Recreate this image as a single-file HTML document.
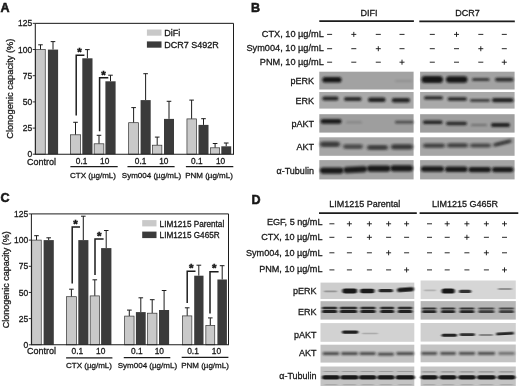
<!DOCTYPE html>
<html><head><meta charset="utf-8"><title>Figure</title>
<style>
html,body{margin:0;padding:0;background:#fff;}
body{width:520px;height:386px;overflow:hidden;}
svg{display:block;font-family:"Liberation Sans",sans-serif;fill:#161616;}
text{stroke:#161616;stroke-width:0.28px;}
text.pl{stroke-width:0.55px;}
text.st{stroke-width:0.5px;}
</style></head><body>
<svg width="520" height="386" viewBox="0 0 520 386">
<defs>
<filter id="b1" x="-20%" y="-100%" width="140%" height="300%"><feGaussianBlur stdDeviation="1.15 0.8"/></filter>
<filter id="b2" x="-20%" y="-100%" width="140%" height="300%"><feGaussianBlur stdDeviation="1.5 1.0"/></filter>
<filter id="b3" x="-20%" y="-100%" width="140%" height="300%"><feGaussianBlur stdDeviation="0.85 0.6"/></filter>
<filter id="soft"><feGaussianBlur stdDeviation="0.35"/></filter>
</defs>
<rect width="520" height="386" fill="#fff"/>
<g filter="url(#soft)">

<text x="0.6" y="11.8" class="pl" font-size="12.5" font-weight="bold">A</text>
<path d="M40.5 49.6V44.8M38.2 44.8H42.8" stroke="#1c1c1c" stroke-width="1.0" fill="none"/><rect x="35.65" y="49.6" width="9.60" height="104.6" fill="#c9c9c9" stroke="#333" stroke-width="0.7"/><path d="M53.0 49.6V41.6M50.7 41.6H55.3" stroke="#1c1c1c" stroke-width="1.0" fill="none"/><rect x="47.90" y="49.6" width="10.20" height="104.6" fill="#3b3b3b"/><path d="M75.5 134.8V122.3M73.2 122.3H77.8" stroke="#1c1c1c" stroke-width="1.0" fill="none"/><rect x="70.35" y="134.8" width="10.30" height="19.4" fill="#c9c9c9" stroke="#333" stroke-width="0.7"/><path d="M87.4 58.3V49.6M85.1 49.6H89.7" stroke="#1c1c1c" stroke-width="1.0" fill="none"/><rect x="82.30" y="58.3" width="10.20" height="95.9" fill="#3b3b3b"/><path d="M99.0 143.8V135.3M96.7 135.3H101.3" stroke="#1c1c1c" stroke-width="1.0" fill="none"/><rect x="94.15" y="143.8" width="9.70" height="10.4" fill="#c9c9c9" stroke="#333" stroke-width="0.7"/><path d="M110.5 81.3V75.2M108.2 75.2H112.8" stroke="#1c1c1c" stroke-width="1.0" fill="none"/><rect x="105.40" y="81.3" width="10.20" height="72.9" fill="#3b3b3b"/><path d="M133.6 122.7V107.6M131.3 107.6H135.9" stroke="#1c1c1c" stroke-width="1.0" fill="none"/><rect x="128.65" y="122.7" width="9.90" height="31.5" fill="#c9c9c9" stroke="#333" stroke-width="0.7"/><path d="M145.6 100.1V73.7M143.3 73.7H147.9" stroke="#1c1c1c" stroke-width="1.0" fill="none"/><rect x="140.60" y="100.1" width="10.10" height="54.1" fill="#3b3b3b"/><path d="M157.2 145.2V137.1M154.9 137.1H159.5" stroke="#1c1c1c" stroke-width="1.0" fill="none"/><rect x="152.55" y="145.2" width="9.30" height="9.0" fill="#c9c9c9" stroke="#333" stroke-width="0.7"/><path d="M169.0 118.9V101.3M166.7 101.3H171.3" stroke="#1c1c1c" stroke-width="1.0" fill="none"/><rect x="164.00" y="118.9" width="10.00" height="35.3" fill="#3b3b3b"/><path d="M191.6 118.9V100.1M189.3 100.1H193.9" stroke="#1c1c1c" stroke-width="1.0" fill="none"/><rect x="186.95" y="118.9" width="9.40" height="35.3" fill="#c9c9c9" stroke="#333" stroke-width="0.7"/><path d="M203.5 124.9V118.7M201.2 118.7H205.8" stroke="#1c1c1c" stroke-width="1.0" fill="none"/><rect x="198.50" y="124.9" width="10.00" height="29.3" fill="#3b3b3b"/><path d="M215.1 147.8V143.5M212.8 143.5H217.4" stroke="#1c1c1c" stroke-width="1.0" fill="none"/><rect x="210.55" y="147.8" width="9.10" height="6.4" fill="#c9c9c9" stroke="#333" stroke-width="0.7"/><path d="M226.2 146.3V143.0M223.9 143.0H228.6" stroke="#1c1c1c" stroke-width="1.0" fill="none"/><rect x="221.30" y="146.3" width="9.90" height="7.9" fill="#3b3b3b"/><path d="M35.3 154.2V23.35H233.5V154.2" fill="none" stroke="#1c1c1c" stroke-width="1"/><path d="M34.8 154.2H234.0" fill="none" stroke="#1c1c1c" stroke-width="1.1"/><path d="M32.699999999999996 23.35H35.3" stroke="#1c1c1c" stroke-width="0.9"/><text x="32.199999999999996" y="26.40" font-size="8.5" text-anchor="end">125</text><path d="M32.699999999999996 49.5H35.3" stroke="#1c1c1c" stroke-width="0.9"/><text x="32.199999999999996" y="52.55" font-size="8.5" text-anchor="end">100</text><path d="M32.699999999999996 75.7H35.3" stroke="#1c1c1c" stroke-width="0.9"/><text x="32.199999999999996" y="78.75" font-size="8.5" text-anchor="end">75</text><path d="M32.699999999999996 101.9H35.3" stroke="#1c1c1c" stroke-width="0.9"/><text x="32.199999999999996" y="104.95" font-size="8.5" text-anchor="end">50</text><path d="M32.699999999999996 128.1H35.3" stroke="#1c1c1c" stroke-width="0.9"/><text x="32.199999999999996" y="131.15" font-size="8.5" text-anchor="end">25</text><path d="M32.699999999999996 154.2H35.3" stroke="#1c1c1c" stroke-width="0.9"/><text x="32.199999999999996" y="157.25" font-size="8.5" text-anchor="end">0</text>
<path d="M76.2 115.4V55.2H84.4" fill="none" stroke="#1c1c1c" stroke-width="1.5"/><text x="79.4" y="56.2" class="st" font-size="11.5" font-weight="bold" text-anchor="middle">*</text>
<path d="M99.6 131.2V77.7H108.3" fill="none" stroke="#1c1c1c" stroke-width="1.5"/><text x="103.4" y="79.0" class="st" font-size="11.5" font-weight="bold" text-anchor="middle">*</text>
<rect x="146.9" y="29.5" width="14.6" height="6.2" fill="#c9c9c9"/>
<rect x="146.9" y="41.4" width="14.6" height="6.3" fill="#3b3b3b"/>
<text x="164.3" y="35.8" font-size="9">DiFi</text>
<text x="164.3" y="47.8" font-size="9">DCR7 S492R</text>
<text transform="translate(13.0,88.7) rotate(-90)" font-size="9.3" text-anchor="middle">Clonogenic capacity (%)</text>
<text x="41.5" y="164.7" font-size="9" text-anchor="middle">Control</text>
<text x="81.6" y="164.2" font-size="8.3" text-anchor="middle">0.1</text>
<text x="104.7" y="164.2" font-size="8.3" text-anchor="middle">10</text>
<text x="140.6" y="164.2" font-size="8.3" text-anchor="middle">0.1</text>
<text x="163.8" y="164.2" font-size="8.3" text-anchor="middle">10</text>
<text x="196.8" y="164.2" font-size="8.3" text-anchor="middle">0.1</text>
<text x="220.5" y="164.2" font-size="8.3" text-anchor="middle">10</text>
<path d="M70.4 166.7H117.7" stroke="#1c1c1c" stroke-width="1.3"/>
<path d="M127.5 166.7H174.6" stroke="#1c1c1c" stroke-width="1.3"/>
<path d="M185.9 166.7H233.3" stroke="#1c1c1c" stroke-width="1.3"/>
<text x="93.0" y="177.8" font-size="8" text-anchor="middle">CTX (µg/mL)</text>
<text x="151.5" y="177.8" font-size="8" text-anchor="middle">Sym004 (µg/mL)</text>
<text x="209.0" y="177.8" font-size="8" text-anchor="middle">PNM (µg/mL)</text>
<text x="0.5" y="202.4" class="pl" font-size="12.5" font-weight="bold">C</text>
<path d="M36.5 240.1V235.7M34.2 235.7H38.8" stroke="#1c1c1c" stroke-width="1.0" fill="none"/><rect x="31.75" y="240.1" width="9.50" height="104.7" fill="#c9c9c9" stroke="#333" stroke-width="0.7"/><path d="M48.7 240.1V237.8M46.4 237.8H51.0" stroke="#1c1c1c" stroke-width="1.0" fill="none"/><rect x="43.60" y="240.1" width="10.20" height="104.7" fill="#3b3b3b"/><path d="M71.4 296.7V289.2M69.1 289.2H73.7" stroke="#1c1c1c" stroke-width="1.0" fill="none"/><rect x="66.45" y="296.7" width="9.90" height="48.1" fill="#c9c9c9" stroke="#333" stroke-width="0.7"/><path d="M83.3 240.1V216.2M81.0 216.2H85.6" stroke="#1c1c1c" stroke-width="1.0" fill="none"/><rect x="78.30" y="240.1" width="10.10" height="104.7" fill="#3b3b3b"/><path d="M94.8 295.9V279.8M92.5 279.8H97.1" stroke="#1c1c1c" stroke-width="1.0" fill="none"/><rect x="90.15" y="295.9" width="9.30" height="48.9" fill="#c9c9c9" stroke="#333" stroke-width="0.7"/><path d="M106.2 248.1V230.5M104.0 230.5H108.5" stroke="#1c1c1c" stroke-width="1.0" fill="none"/><rect x="101.10" y="248.1" width="10.30" height="96.7" fill="#3b3b3b"/><path d="M129.3 316.1V310.1M127.0 310.1H131.7" stroke="#1c1c1c" stroke-width="1.0" fill="none"/><rect x="124.65" y="316.1" width="9.40" height="28.7" fill="#c9c9c9" stroke="#333" stroke-width="0.7"/><path d="M140.8 312.1V297.8M138.5 297.8H143.1" stroke="#1c1c1c" stroke-width="1.0" fill="none"/><rect x="135.90" y="312.1" width="9.80" height="32.7" fill="#3b3b3b"/><path d="M152.2 313.2V299.7M149.9 299.7H154.6" stroke="#1c1c1c" stroke-width="1.0" fill="none"/><rect x="147.55" y="313.2" width="9.40" height="31.6" fill="#c9c9c9" stroke="#333" stroke-width="0.7"/><path d="M164.1 310.0V290.5M161.8 290.5H166.4" stroke="#1c1c1c" stroke-width="1.0" fill="none"/><rect x="159.00" y="310.0" width="10.10" height="34.8" fill="#3b3b3b"/><path d="M187.2 315.9V307.8M184.9 307.8H189.5" stroke="#1c1c1c" stroke-width="1.0" fill="none"/><rect x="182.55" y="315.9" width="9.30" height="28.9" fill="#c9c9c9" stroke="#333" stroke-width="0.7"/><path d="M198.8 275.7V265.2M196.5 265.2H201.2" stroke="#1c1c1c" stroke-width="1.0" fill="none"/><rect x="194.20" y="275.7" width="9.30" height="69.1" fill="#3b3b3b"/><path d="M210.3 325.4V317.9M208.0 317.9H212.6" stroke="#1c1c1c" stroke-width="1.0" fill="none"/><rect x="205.85" y="325.4" width="8.90" height="19.4" fill="#c9c9c9" stroke="#333" stroke-width="0.7"/><path d="M222.2 279.5V265.7M219.8 265.7H224.5" stroke="#1c1c1c" stroke-width="1.0" fill="none"/><rect x="217.40" y="279.5" width="9.50" height="65.3" fill="#3b3b3b"/><path d="M31.4 344.8V213.9H228.5V344.8" fill="none" stroke="#1c1c1c" stroke-width="1"/><path d="M30.9 344.8H229.0" fill="none" stroke="#1c1c1c" stroke-width="1.1"/><path d="M28.799999999999997 213.9H31.4" stroke="#1c1c1c" stroke-width="0.9"/><text x="28.299999999999997" y="216.95" font-size="8.5" text-anchor="end">125</text><path d="M28.799999999999997 240.1H31.4" stroke="#1c1c1c" stroke-width="0.9"/><text x="28.299999999999997" y="243.15" font-size="8.5" text-anchor="end">100</text><path d="M28.799999999999997 266.3H31.4" stroke="#1c1c1c" stroke-width="0.9"/><text x="28.299999999999997" y="269.35" font-size="8.5" text-anchor="end">75</text><path d="M28.799999999999997 292.45H31.4" stroke="#1c1c1c" stroke-width="0.9"/><text x="28.299999999999997" y="295.50" font-size="8.5" text-anchor="end">50</text><path d="M28.799999999999997 318.6H31.4" stroke="#1c1c1c" stroke-width="0.9"/><text x="28.299999999999997" y="321.65" font-size="8.5" text-anchor="end">25</text><path d="M28.799999999999997 344.8H31.4" stroke="#1c1c1c" stroke-width="0.9"/><text x="28.299999999999997" y="347.85" font-size="8.5" text-anchor="end">0</text>
<path d="M72.2 283.5V227.0H80.0" fill="none" stroke="#1c1c1c" stroke-width="1.5"/><text x="75.6" y="228.1" class="st" font-size="11.5" font-weight="bold" text-anchor="middle">*</text>
<path d="M95.0 275.0V239.0H103.6" fill="none" stroke="#1c1c1c" stroke-width="1.5"/><text x="99.3" y="240.2" class="st" font-size="11.5" font-weight="bold" text-anchor="middle">*</text>
<path d="M187.2 303.1V271.2H195.5" fill="none" stroke="#1c1c1c" stroke-width="1.5"/><text x="191.2" y="271.8" class="st" font-size="11.5" font-weight="bold" text-anchor="middle">*</text>
<path d="M210.0 313.4V271.7H218.6" fill="none" stroke="#1c1c1c" stroke-width="1.5"/><text x="214.3" y="271.8" class="st" font-size="11.5" font-weight="bold" text-anchor="middle">*</text>
<rect x="142.2" y="220.1" width="14.3" height="6.3" fill="#c9c9c9"/>
<rect x="142.2" y="231.6" width="14.3" height="6.5" fill="#3b3b3b"/>
<text x="159.6" y="226.5" font-size="8.2">LIM1215 Parental</text>
<text x="159.6" y="237.9" font-size="8.2">LIM1215 G465R</text>
<text transform="translate(9.0,279.8) rotate(-90)" font-size="9.0" text-anchor="middle">Clonogenic capacity (%)</text>
<text x="41.5" y="354.2" font-size="9" text-anchor="middle">Control</text>
<text x="77.4" y="354.4" font-size="8.4" text-anchor="middle">0.1</text>
<text x="100.7" y="354.4" font-size="8.4" text-anchor="middle">10</text>
<text x="136.9" y="354.4" font-size="8.4" text-anchor="middle">0.1</text>
<text x="159.3" y="354.4" font-size="8.4" text-anchor="middle">10</text>
<text x="193.0" y="354.0" font-size="8.4" text-anchor="middle">0.1</text>
<text x="216.4" y="354.0" font-size="8.4" text-anchor="middle">10</text>
<path d="M66.1 357.8H112.4" stroke="#1c1c1c" stroke-width="1.3"/>
<path d="M123.8 357.7H170.3" stroke="#1c1c1c" stroke-width="1.3"/>
<path d="M181.7 357.4H228.4" stroke="#1c1c1c" stroke-width="1.3"/>
<text x="89.0" y="368.4" font-size="8" text-anchor="middle">CTX (µg/mL)</text>
<text x="147.4" y="368.4" font-size="8" text-anchor="middle">Sym004 (µg/mL)</text>
<text x="205.0" y="368.4" font-size="8" text-anchor="middle">PNM (µg/mL)</text>
<text x="251" y="12.0" class="pl" font-size="12.5" font-weight="bold">B</text>
<text x="368.9" y="15.8" font-size="9" text-anchor="middle">DIFI</text>
<text x="467.5" y="16.4" font-size="9" text-anchor="middle">DCR7</text>
<path d="M319.3 21.2H413.9M419.3 21.4H514.8" stroke="#1c1c1c" stroke-width="1.8"/>
<text x="323.8" y="37.3" font-size="9.2" text-anchor="end">CTX, 10 µg/mL</text>
<path d="M327.1 34.4H332.1" stroke="#1c1c1c" stroke-width="0.95"/>
<path d="M351.3 34.4H356.3M353.8 31.9V36.9" stroke="#1c1c1c" stroke-width="0.95"/>
<path d="M375.8 34.4H380.8" stroke="#1c1c1c" stroke-width="0.95"/>
<path d="M399.5 34.4H404.5" stroke="#1c1c1c" stroke-width="0.95"/>
<path d="M429.8 34.4H434.8" stroke="#1c1c1c" stroke-width="0.95"/>
<path d="M454.0 34.4H459.0M456.5 31.9V36.9" stroke="#1c1c1c" stroke-width="0.95"/>
<path d="M478.3 34.4H483.3" stroke="#1c1c1c" stroke-width="0.95"/>
<path d="M501.8 34.4H506.8" stroke="#1c1c1c" stroke-width="0.95"/>
<text x="323.8" y="51.2" font-size="9.2" text-anchor="end">Sym004, 10 µg/mL</text>
<path d="M327.1 48.7H332.1" stroke="#1c1c1c" stroke-width="0.95"/>
<path d="M351.3 48.7H356.3" stroke="#1c1c1c" stroke-width="0.95"/>
<path d="M375.8 48.7H380.8M378.3 46.2V51.2" stroke="#1c1c1c" stroke-width="0.95"/>
<path d="M399.5 48.7H404.5" stroke="#1c1c1c" stroke-width="0.95"/>
<path d="M429.8 48.7H434.8" stroke="#1c1c1c" stroke-width="0.95"/>
<path d="M454.0 48.7H459.0" stroke="#1c1c1c" stroke-width="0.95"/>
<path d="M478.3 48.7H483.3M480.8 46.2V51.2" stroke="#1c1c1c" stroke-width="0.95"/>
<path d="M501.8 48.7H506.8" stroke="#1c1c1c" stroke-width="0.95"/>
<text x="323.8" y="64.8" font-size="9.2" text-anchor="end">PNM, 10 µg/mL</text>
<path d="M327.1 62.2H332.1" stroke="#1c1c1c" stroke-width="0.95"/>
<path d="M351.3 62.2H356.3" stroke="#1c1c1c" stroke-width="0.95"/>
<path d="M375.8 62.2H380.8" stroke="#1c1c1c" stroke-width="0.95"/>
<path d="M399.5 62.2H404.5M402.0 59.7V64.7" stroke="#1c1c1c" stroke-width="0.95"/>
<path d="M429.8 62.2H434.8" stroke="#1c1c1c" stroke-width="0.95"/>
<path d="M454.0 62.2H459.0" stroke="#1c1c1c" stroke-width="0.95"/>
<path d="M478.3 62.2H483.3" stroke="#1c1c1c" stroke-width="0.95"/>
<path d="M501.8 62.2H506.8M504.3 59.7V64.7" stroke="#1c1c1c" stroke-width="0.95"/>
</g>
<g>
<rect x="319.3" y="71.7" width="94.3" height="17.8" fill="#a2a2a2"/>
<rect x="420.1" y="71.7" width="94.5" height="17.8" fill="#a2a2a2"/>
<rect x="319.3" y="92.0" width="94.3" height="16.6" fill="#a9a9a9"/>
<rect x="420.1" y="92.0" width="94.5" height="16.6" fill="#a9a9a9"/>
<rect x="319.3" y="114.2" width="94.3" height="18.4" fill="#9e9e9e"/>
<rect x="420.1" y="114.2" width="94.5" height="18.4" fill="#9e9e9e"/>
<rect x="319.3" y="137.3" width="94.3" height="18.5" fill="#a6a6a6"/>
<rect x="420.1" y="137.3" width="94.5" height="18.5" fill="#a6a6a6"/>
<rect x="319.3" y="160.1" width="94.3" height="19.3" fill="#a4a4a4"/>
<rect x="420.1" y="160.1" width="94.5" height="19.3" fill="#a4a4a4"/>
<rect x="322.3" y="76.90" width="19.3" height="5.60" rx="2.80" fill="#141414" opacity="1.0" filter="url(#b1)"/>
<rect x="395.0" y="80.00" width="17.0" height="2.00" rx="1.00" fill="#141414" opacity="0.12" filter="url(#b1)"/>
<rect x="322.3" y="96.60" width="16.2" height="4.00" rx="2.00" fill="#141414" opacity="0.9" filter="url(#b1)"/>
<rect x="344.0" y="96.90" width="17.6" height="4.00" rx="2.00" fill="#141414" opacity="0.85" filter="url(#b1)"/>
<rect x="368.0" y="97.40" width="17.6" height="4.60" rx="2.30" fill="#141414" opacity="0.92" filter="url(#b1)"/>
<rect x="391.8" y="98.00" width="18.2" height="4.60" rx="2.30" fill="#141414" opacity="0.9" filter="url(#b1)"/>
<rect x="320.6" y="118.95" width="21.0" height="4.90" rx="2.45" fill="#141414" opacity="0.96" filter="url(#b1)"/>
<rect x="346.0" y="121.40" width="16.0" height="1.80" rx="0.90" fill="#141414" opacity="0.22" filter="url(#b1)"/>
<rect x="395.0" y="120.80" width="18.6" height="2.80" rx="1.40" fill="#141414" opacity="0.6" filter="url(#b1)"/>
<rect x="320.0" y="141.50" width="20.0" height="5.40" rx="2.70" fill="#141414" opacity="0.72" filter="url(#b2)"/>
<rect x="343.0" y="144.30" width="20.0" height="4.60" rx="2.30" fill="#141414" opacity="0.62" filter="url(#b2)"/>
<rect x="367.0" y="144.90" width="21.0" height="5.00" rx="2.50" fill="#141414" opacity="0.7" filter="url(#b2)"/>
<rect x="391.0" y="144.20" width="22.0" height="5.20" rx="2.60" fill="#141414" opacity="0.74" filter="url(#b2)"/>
<rect x="320.0" y="167.50" width="23.5" height="6.20" rx="3.10" fill="#141414" opacity="0.97" filter="url(#b1)"/>
<rect x="343.5" y="166.50" width="23.5" height="6.20" rx="3.10" fill="#141414" opacity="0.97" filter="url(#b1)" transform="rotate(-3 355.2 169.6)"/>
<rect x="367.0" y="165.50" width="23.5" height="6.20" rx="3.10" fill="#141414" opacity="0.97" filter="url(#b1)"/>
<rect x="390.5" y="165.20" width="22.5" height="6.20" rx="3.10" fill="#141414" opacity="0.97" filter="url(#b1)"/>
<rect x="421.5" y="76.00" width="21.5" height="7.00" rx="3.50" fill="#141414" opacity="1.0" filter="url(#b1)"/>
<rect x="446.0" y="76.20" width="21.5" height="6.60" rx="3.30" fill="#141414" opacity="1.0" filter="url(#b1)"/>
<rect x="472.0" y="78.10" width="17.5" height="3.00" rx="1.50" fill="#141414" opacity="0.75" filter="url(#b1)"/>
<rect x="495.0" y="77.80" width="18.5" height="3.60" rx="1.80" fill="#141414" opacity="0.85" filter="url(#b1)"/>
<rect x="424.0" y="96.20" width="19.0" height="3.40" rx="1.70" fill="#141414" opacity="0.85" filter="url(#b1)"/>
<rect x="447.5" y="97.20" width="19.5" height="3.60" rx="1.80" fill="#141414" opacity="0.85" filter="url(#b1)"/>
<rect x="470.0" y="98.90" width="20.0" height="2.80" rx="1.40" fill="#141414" opacity="0.75" filter="url(#b1)"/>
<rect x="492.0" y="98.10" width="21.5" height="4.20" rx="2.10" fill="#141414" opacity="0.92" filter="url(#b1)"/>
<rect x="423.0" y="120.50" width="19.5" height="3.60" rx="1.80" fill="#141414" opacity="0.92" filter="url(#b1)"/>
<rect x="446.0" y="121.80" width="21.0" height="3.40" rx="1.70" fill="#141414" opacity="0.85" filter="url(#b1)"/>
<rect x="471.0" y="124.30" width="16.0" height="1.80" rx="0.90" fill="#141414" opacity="0.4" filter="url(#b1)"/>
<rect x="491.0" y="123.00" width="19.0" height="4.00" rx="2.00" fill="#141414" opacity="0.92" filter="url(#b1)"/>
<rect x="423.0" y="143.40" width="22.0" height="4.40" rx="2.20" fill="#141414" opacity="0.7" filter="url(#b2)"/>
<rect x="447.0" y="143.20" width="21.0" height="4.40" rx="2.20" fill="#141414" opacity="0.7" filter="url(#b2)"/>
<rect x="470.0" y="143.60" width="21.0" height="4.00" rx="2.00" fill="#141414" opacity="0.66" filter="url(#b2)"/>
<rect x="493.0" y="141.00" width="19.0" height="4.00" rx="2.00" fill="#141414" opacity="0.72" filter="url(#b2)" transform="rotate(-14 502.5 143.0)"/>
<rect x="421.0" y="166.20" width="23.0" height="5.60" rx="2.80" fill="#141414" opacity="0.97" filter="url(#b1)"/>
<rect x="445.0" y="166.40" width="22.5" height="5.60" rx="2.80" fill="#141414" opacity="0.97" filter="url(#b1)"/>
<rect x="468.5" y="167.00" width="22.5" height="5.20" rx="2.60" fill="#141414" opacity="0.97" filter="url(#b1)"/>
<rect x="492.0" y="166.90" width="21.5" height="5.40" rx="2.70" fill="#141414" opacity="0.97" filter="url(#b1)"/>
</g>
<g filter="url(#soft)">
<text x="313.9" y="84.3" font-size="9" text-anchor="end">pERK</text>
<text x="313.9" y="103.6" font-size="9" text-anchor="end">ERK</text>
<text x="313.9" y="127.1" font-size="9" text-anchor="end">pAKT</text>
<text x="313.9" y="150.0" font-size="9" text-anchor="end">AKT</text>
<text x="313.9" y="174.1" font-size="9" text-anchor="end">α-Tubulin</text>
<text x="251.5" y="203.5" class="pl" font-size="12.5" font-weight="bold">D</text>
<text x="364.7" y="206.7" font-size="9" text-anchor="middle">LIM1215 Parental</text>
<text x="465.0" y="206.7" font-size="9" text-anchor="middle">LIM1215 G465R</text>
<path d="M319 213.1H416.8M419.6 213.1H518.3" stroke="#1c1c1c" stroke-width="1.8"/>
<text x="322.5" y="225.2" font-size="9.1" text-anchor="end">EGF, 5 ng/mL</text>
<path d="M329.4 223.8H334.4" stroke="#1c1c1c" stroke-width="0.95"/>
<path d="M346.9 223.8H351.9M349.4 221.3V226.3" stroke="#1c1c1c" stroke-width="0.95"/>
<path d="M366.9 223.8H371.9M369.4 221.3V226.3" stroke="#1c1c1c" stroke-width="0.95"/>
<path d="M386.1 223.8H391.1M388.6 221.3V226.3" stroke="#1c1c1c" stroke-width="0.95"/>
<path d="M404.1 223.8H409.1M406.6 221.3V226.3" stroke="#1c1c1c" stroke-width="0.95"/>
<path d="M427.0 223.8H432.0" stroke="#1c1c1c" stroke-width="0.95"/>
<path d="M444.7 223.8H449.7M447.2 221.3V226.3" stroke="#1c1c1c" stroke-width="0.95"/>
<path d="M464.4 223.8H469.4M466.9 221.3V226.3" stroke="#1c1c1c" stroke-width="0.95"/>
<path d="M483.9 223.8H488.9M486.4 221.3V226.3" stroke="#1c1c1c" stroke-width="0.95"/>
<path d="M502.0 223.8H507.0M504.5 221.3V226.3" stroke="#1c1c1c" stroke-width="0.95"/>
<text x="322.5" y="240.1" font-size="9.1" text-anchor="end">CTX, 10 µg/mL</text>
<path d="M329.4 237.3H334.4" stroke="#1c1c1c" stroke-width="0.95"/>
<path d="M346.9 237.3H351.9" stroke="#1c1c1c" stroke-width="0.95"/>
<path d="M366.9 237.3H371.9M369.4 234.8V239.8" stroke="#1c1c1c" stroke-width="0.95"/>
<path d="M386.1 237.3H391.1" stroke="#1c1c1c" stroke-width="0.95"/>
<path d="M404.1 237.3H409.1" stroke="#1c1c1c" stroke-width="0.95"/>
<path d="M427.0 237.3H432.0" stroke="#1c1c1c" stroke-width="0.95"/>
<path d="M444.7 237.3H449.7" stroke="#1c1c1c" stroke-width="0.95"/>
<path d="M464.4 237.3H469.4M466.9 234.8V239.8" stroke="#1c1c1c" stroke-width="0.95"/>
<path d="M483.9 237.3H488.9" stroke="#1c1c1c" stroke-width="0.95"/>
<path d="M502.0 237.3H507.0" stroke="#1c1c1c" stroke-width="0.95"/>
<text x="322.5" y="256.3" font-size="9.1" text-anchor="end">Sym004, 10 µg/mL</text>
<path d="M329.4 252.8H334.4" stroke="#1c1c1c" stroke-width="0.95"/>
<path d="M346.9 252.8H351.9" stroke="#1c1c1c" stroke-width="0.95"/>
<path d="M366.9 252.8H371.9" stroke="#1c1c1c" stroke-width="0.95"/>
<path d="M386.1 252.8H391.1M388.6 250.3V255.3" stroke="#1c1c1c" stroke-width="0.95"/>
<path d="M404.1 252.8H409.1" stroke="#1c1c1c" stroke-width="0.95"/>
<path d="M427.0 252.8H432.0" stroke="#1c1c1c" stroke-width="0.95"/>
<path d="M444.7 252.8H449.7" stroke="#1c1c1c" stroke-width="0.95"/>
<path d="M464.4 252.8H469.4" stroke="#1c1c1c" stroke-width="0.95"/>
<path d="M483.9 252.8H488.9M486.4 250.3V255.3" stroke="#1c1c1c" stroke-width="0.95"/>
<path d="M502.0 252.8H507.0" stroke="#1c1c1c" stroke-width="0.95"/>
<text x="322.5" y="272.1" font-size="9.1" text-anchor="end">PNM, 10 µg/mL</text>
<path d="M329.4 269.9H334.4" stroke="#1c1c1c" stroke-width="0.95"/>
<path d="M346.9 269.9H351.9" stroke="#1c1c1c" stroke-width="0.95"/>
<path d="M366.9 269.9H371.9" stroke="#1c1c1c" stroke-width="0.95"/>
<path d="M386.1 269.9H391.1" stroke="#1c1c1c" stroke-width="0.95"/>
<path d="M404.1 269.9H409.1M406.6 267.4V272.4" stroke="#1c1c1c" stroke-width="0.95"/>
<path d="M427.0 269.9H432.0" stroke="#1c1c1c" stroke-width="0.95"/>
<path d="M444.7 269.9H449.7" stroke="#1c1c1c" stroke-width="0.95"/>
<path d="M464.4 269.9H469.4" stroke="#1c1c1c" stroke-width="0.95"/>
<path d="M483.9 269.9H488.9" stroke="#1c1c1c" stroke-width="0.95"/>
<path d="M502.0 269.9H507.0M504.5 267.4V272.4" stroke="#1c1c1c" stroke-width="0.95"/>
<text x="316.6" y="294.3" font-size="9" text-anchor="end">pERK</text>
<text x="316.6" y="314.5" font-size="9" text-anchor="end">ERK</text>
<text x="316.6" y="337.6" font-size="9" text-anchor="end">pAKT</text>
<text x="316.6" y="356.2" font-size="9" text-anchor="end">AKT</text>
<text x="316.6" y="379.1" font-size="9" text-anchor="end">α-Tubulin</text>
</g>
<g>
<rect x="320.5" y="282.6" width="93.8" height="16.4" fill="#cdcdcd"/>
<rect x="320.5" y="301.2" width="93.8" height="18.4" fill="#b6b6b6"/>
<rect x="320.5" y="323.1" width="93.8" height="18.7" fill="#d2d2d2"/>
<rect x="320.5" y="344.7" width="93.8" height="17.9" fill="#c3c3c3"/>
<rect x="320.5" y="366.5" width="93.8" height="19.5" fill="#c4c4c4"/>
<rect x="420.6" y="280.5" width="95.2" height="18.6" fill="#d6d6d6"/>
<rect x="420.6" y="301.1" width="95.2" height="18.5" fill="#b6b6b6"/>
<rect x="420.6" y="323.0" width="95.2" height="18.6" fill="#cfcfcf"/>
<rect x="420.6" y="344.5" width="95.2" height="17.8" fill="#c3c3c3"/>
<rect x="420.6" y="366.5" width="95.2" height="19.5" fill="#c4c4c4"/>
<rect x="324.0" y="290.60" width="13.0" height="1.60" rx="0.80" fill="#141414" opacity="0.3" filter="url(#b3)"/>
<rect x="342.2" y="288.60" width="15.0" height="4.80" rx="2.40" fill="#141414" opacity="0.98" filter="url(#b3)"/>
<rect x="360.0" y="288.80" width="14.6" height="4.40" rx="2.20" fill="#141414" opacity="0.97" filter="url(#b3)"/>
<rect x="378.6" y="289.10" width="14.4" height="3.20" rx="1.60" fill="#141414" opacity="0.9" filter="url(#b3)"/>
<rect x="397.0" y="287.60" width="17.0" height="4.20" rx="2.10" fill="#141414" opacity="0.96" filter="url(#b3)" transform="rotate(-4 405.5 289.7)"/>
<rect x="322.0" y="306.70" width="15.2" height="2.60" rx="1.30" fill="#141414" opacity="0.85" filter="url(#b3)"/>
<rect x="322.0" y="309.90" width="15.2" height="3.00" rx="1.50" fill="#141414" opacity="0.93" filter="url(#b3)"/>
<rect x="339.8" y="306.70" width="17.4" height="2.60" rx="1.30" fill="#141414" opacity="0.85" filter="url(#b3)"/>
<rect x="339.8" y="309.90" width="17.4" height="3.00" rx="1.50" fill="#141414" opacity="0.93" filter="url(#b3)"/>
<rect x="360.4" y="306.70" width="15.2" height="2.60" rx="1.30" fill="#141414" opacity="0.85" filter="url(#b3)"/>
<rect x="360.4" y="309.90" width="15.2" height="3.00" rx="1.50" fill="#141414" opacity="0.93" filter="url(#b3)"/>
<rect x="380.2" y="306.70" width="14.0" height="2.60" rx="1.30" fill="#141414" opacity="0.85" filter="url(#b3)"/>
<rect x="380.2" y="309.90" width="14.0" height="3.00" rx="1.50" fill="#141414" opacity="0.93" filter="url(#b3)"/>
<rect x="397.8" y="306.70" width="14.6" height="2.60" rx="1.30" fill="#141414" opacity="0.85" filter="url(#b3)"/>
<rect x="397.8" y="309.90" width="14.6" height="3.00" rx="1.50" fill="#141414" opacity="0.93" filter="url(#b3)"/>
<rect x="342.0" y="330.50" width="16.4" height="3.20" rx="1.60" fill="#141414" opacity="0.95" filter="url(#b3)"/>
<rect x="362.0" y="332.80" width="16.0" height="1.40" rx="0.70" fill="#141414" opacity="0.2" filter="url(#b3)"/>
<rect x="322.6" y="352.25" width="16.7" height="2.70" rx="1.35" fill="#141414" opacity="0.74" filter="url(#b1)"/>
<rect x="341.0" y="352.25" width="17.0" height="2.70" rx="1.35" fill="#141414" opacity="0.74" filter="url(#b1)"/>
<rect x="359.5" y="352.25" width="16.3" height="2.70" rx="1.35" fill="#141414" opacity="0.74" filter="url(#b1)"/>
<rect x="377.8" y="352.85" width="16.2" height="2.70" rx="1.35" fill="#141414" opacity="0.74" filter="url(#b1)"/>
<rect x="396.2" y="352.25" width="18.0" height="2.70" rx="1.35" fill="#141414" opacity="0.74" filter="url(#b1)"/>
<rect x="322.0" y="375.30" width="17.9" height="4.20" rx="2.10" fill="#141414" opacity="0.98" filter="url(#b3)"/>
<rect x="323.4" y="370.90" width="15.1" height="1.20" rx="0.60" fill="#141414" opacity="0.22" filter="url(#b3)"/>
<rect x="324.4" y="384.00" width="13.1" height="1.20" rx="0.60" fill="#141414" opacity="0.15" filter="url(#b3)"/>
<rect x="340.4" y="375.30" width="18.2" height="4.20" rx="2.10" fill="#141414" opacity="0.98" filter="url(#b3)"/>
<rect x="341.8" y="370.90" width="15.4" height="1.20" rx="0.60" fill="#141414" opacity="0.22" filter="url(#b3)"/>
<rect x="342.8" y="384.00" width="13.4" height="1.20" rx="0.60" fill="#141414" opacity="0.15" filter="url(#b3)"/>
<rect x="358.9" y="375.30" width="17.5" height="4.20" rx="2.10" fill="#141414" opacity="0.98" filter="url(#b3)"/>
<rect x="360.3" y="370.90" width="14.7" height="1.20" rx="0.60" fill="#141414" opacity="0.22" filter="url(#b3)"/>
<rect x="361.3" y="384.00" width="12.7" height="1.20" rx="0.60" fill="#141414" opacity="0.15" filter="url(#b3)"/>
<rect x="377.2" y="375.30" width="17.4" height="4.20" rx="2.10" fill="#141414" opacity="0.98" filter="url(#b3)"/>
<rect x="378.6" y="370.90" width="14.6" height="1.20" rx="0.60" fill="#141414" opacity="0.22" filter="url(#b3)"/>
<rect x="379.6" y="384.00" width="12.6" height="1.20" rx="0.60" fill="#141414" opacity="0.15" filter="url(#b3)"/>
<rect x="395.6" y="375.30" width="19.2" height="4.20" rx="2.10" fill="#141414" opacity="0.98" filter="url(#b3)"/>
<rect x="397.0" y="370.90" width="16.4" height="1.20" rx="0.60" fill="#141414" opacity="0.22" filter="url(#b3)"/>
<rect x="398.0" y="384.00" width="14.4" height="1.20" rx="0.60" fill="#141414" opacity="0.15" filter="url(#b3)"/>
<rect x="424.0" y="289.60" width="12.0" height="1.60" rx="0.80" fill="#141414" opacity="0.18" filter="url(#b3)"/>
<rect x="441.6" y="288.40" width="13.2" height="5.20" rx="2.60" fill="#141414" opacity="0.99" filter="url(#b3)"/>
<rect x="459.0" y="289.80" width="12.2" height="3.20" rx="1.60" fill="#141414" opacity="0.85" filter="url(#b3)"/>
<rect x="498.0" y="287.90" width="14.0" height="2.20" rx="1.10" fill="#141414" opacity="0.35" filter="url(#b3)"/>
<rect x="422.0" y="307.40" width="14.4" height="2.00" rx="1.00" fill="#141414" opacity="0.81" filter="url(#b3)"/>
<rect x="422.0" y="310.30" width="14.4" height="2.80" rx="1.40" fill="#141414" opacity="0.9" filter="url(#b3)"/>
<rect x="441.0" y="307.40" width="14.2" height="2.00" rx="1.00" fill="#141414" opacity="0.81" filter="url(#b3)"/>
<rect x="441.0" y="310.30" width="14.2" height="2.80" rx="1.40" fill="#141414" opacity="0.9" filter="url(#b3)"/>
<rect x="459.6" y="307.40" width="14.8" height="2.00" rx="1.00" fill="#141414" opacity="0.81" filter="url(#b3)"/>
<rect x="459.6" y="310.30" width="14.8" height="2.80" rx="1.40" fill="#141414" opacity="0.9" filter="url(#b3)"/>
<rect x="478.4" y="307.40" width="16.0" height="2.00" rx="1.00" fill="#141414" opacity="0.675" filter="url(#b3)"/>
<rect x="478.4" y="310.30" width="16.0" height="2.80" rx="1.40" fill="#141414" opacity="0.75" filter="url(#b3)"/>
<rect x="499.0" y="307.40" width="15.0" height="2.00" rx="1.00" fill="#141414" opacity="0.675" filter="url(#b3)"/>
<rect x="499.0" y="310.30" width="15.0" height="2.80" rx="1.40" fill="#141414" opacity="0.75" filter="url(#b3)"/>
<rect x="441.6" y="333.70" width="15.4" height="3.00" rx="1.50" fill="#141414" opacity="0.93" filter="url(#b3)"/>
<rect x="459.6" y="333.30" width="15.4" height="2.60" rx="1.30" fill="#141414" opacity="0.85" filter="url(#b3)"/>
<rect x="479.0" y="334.00" width="14.0" height="2.00" rx="1.00" fill="#141414" opacity="0.4" filter="url(#b3)"/>
<rect x="496.0" y="332.30" width="18.0" height="2.80" rx="1.40" fill="#141414" opacity="0.9" filter="url(#b3)" transform="rotate(-3 505.0 333.7)"/>
<rect x="421.2" y="352.05" width="16.0" height="2.70" rx="1.35" fill="#141414" opacity="0.72" filter="url(#b1)"/>
<rect x="440.2" y="352.05" width="15.8" height="2.70" rx="1.35" fill="#141414" opacity="0.72" filter="url(#b1)"/>
<rect x="458.8" y="352.05" width="16.4" height="2.70" rx="1.35" fill="#141414" opacity="0.72" filter="url(#b1)"/>
<rect x="477.6" y="352.05" width="17.6" height="2.70" rx="1.35" fill="#141414" opacity="0.72" filter="url(#b1)"/>
<rect x="498.2" y="352.05" width="16.6" height="2.70" rx="1.35" fill="#141414" opacity="0.5" filter="url(#b1)"/>
<rect x="420.6" y="375.20" width="17.2" height="4.20" rx="2.10" fill="#141414" opacity="0.98" filter="url(#b3)"/>
<rect x="422.0" y="371.20" width="14.4" height="1.20" rx="0.60" fill="#141414" opacity="0.28" filter="url(#b3)"/>
<rect x="423.0" y="384.00" width="12.4" height="1.20" rx="0.60" fill="#141414" opacity="0.15" filter="url(#b3)"/>
<rect x="439.6" y="375.20" width="17.0" height="4.20" rx="2.10" fill="#141414" opacity="0.98" filter="url(#b3)"/>
<rect x="441.0" y="371.20" width="14.2" height="1.20" rx="0.60" fill="#141414" opacity="0.28" filter="url(#b3)"/>
<rect x="442.0" y="384.00" width="12.2" height="1.20" rx="0.60" fill="#141414" opacity="0.15" filter="url(#b3)"/>
<rect x="458.2" y="375.20" width="17.6" height="4.20" rx="2.10" fill="#141414" opacity="0.98" filter="url(#b3)"/>
<rect x="459.6" y="371.20" width="14.8" height="1.20" rx="0.60" fill="#141414" opacity="0.28" filter="url(#b3)"/>
<rect x="460.6" y="384.00" width="12.8" height="1.20" rx="0.60" fill="#141414" opacity="0.15" filter="url(#b3)"/>
<rect x="477.0" y="375.20" width="18.8" height="4.20" rx="2.10" fill="#141414" opacity="0.98" filter="url(#b3)"/>
<rect x="478.4" y="371.20" width="16.0" height="1.20" rx="0.60" fill="#141414" opacity="0.28" filter="url(#b3)"/>
<rect x="479.4" y="384.00" width="14.0" height="1.20" rx="0.60" fill="#141414" opacity="0.15" filter="url(#b3)"/>
<rect x="497.6" y="375.20" width="17.8" height="4.20" rx="2.10" fill="#141414" opacity="0.98" filter="url(#b3)"/>
<rect x="499.0" y="371.20" width="15.0" height="1.20" rx="0.60" fill="#141414" opacity="0.28" filter="url(#b3)"/>
<rect x="500.0" y="384.00" width="13.0" height="1.20" rx="0.60" fill="#141414" opacity="0.15" filter="url(#b3)"/>
</g>
</svg></body></html>
